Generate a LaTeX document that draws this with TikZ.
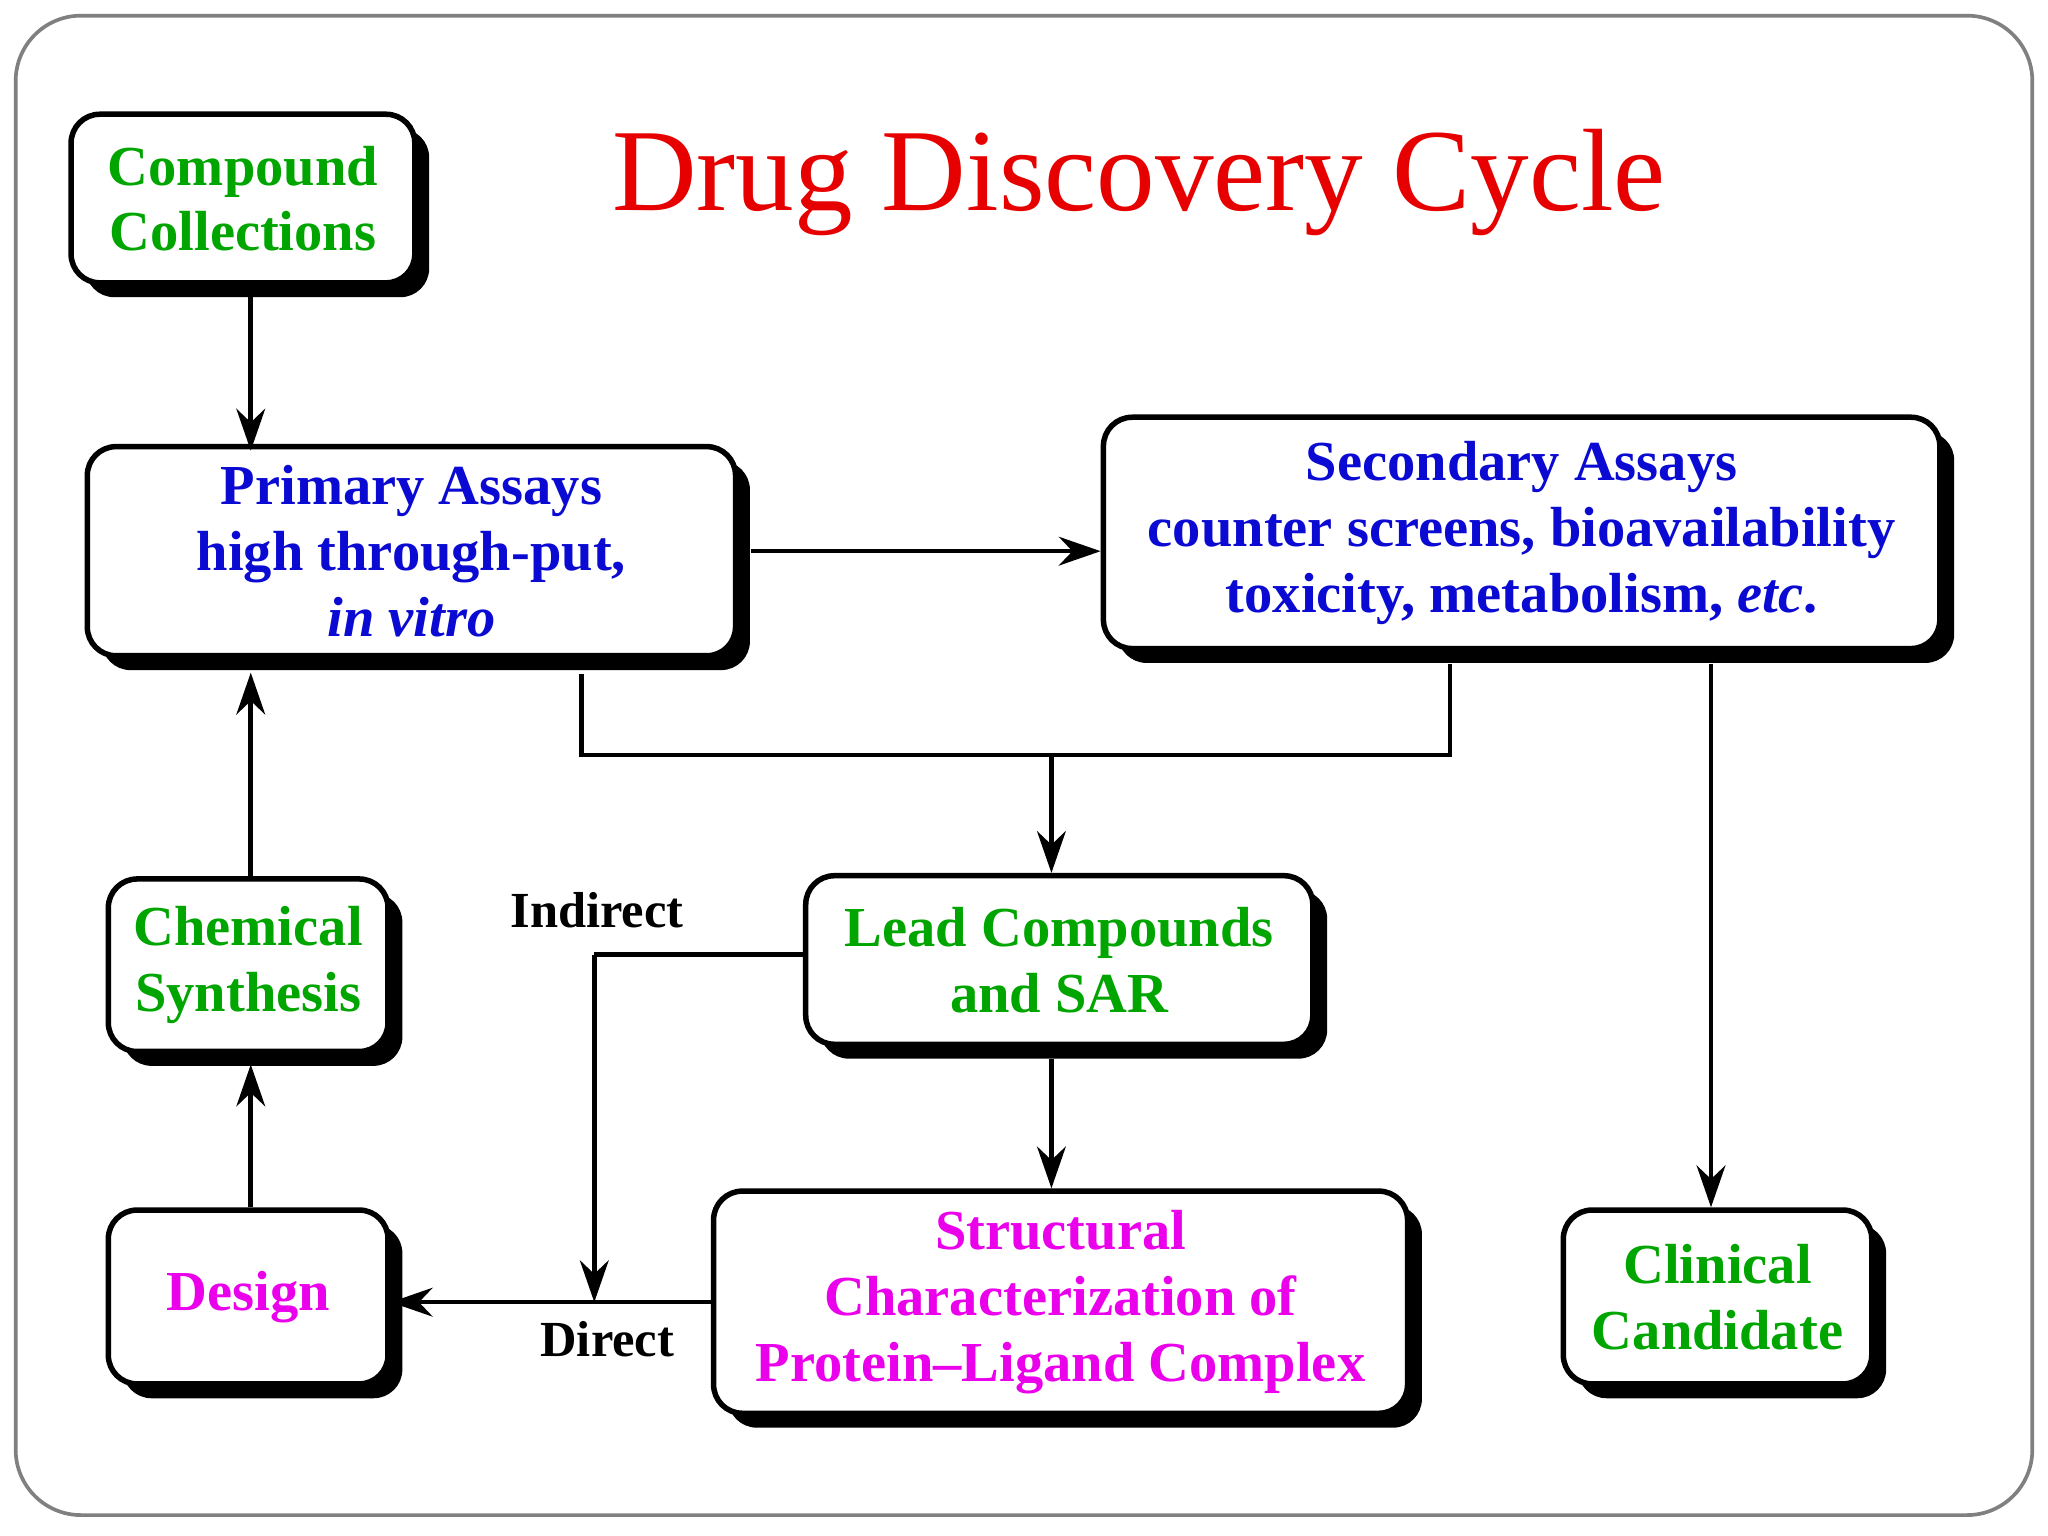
\documentclass[tikz,border=0pt]{standalone}
\usepackage{fontspec}
\setmainfont{Liberation Serif}
\usetikzlibrary{shadows,arrows.meta}
\definecolor{cg}{RGB}{0,165,0}
\definecolor{cb}{RGB}{10,10,210}
\definecolor{cm}{RGB}{235,0,235}
\definecolor{cr}{RGB}{230,0,0}
\begin{document}
\begin{tikzpicture}[x=0.01cm,y=-0.01cm,
 box/.style={draw=black,line width=1.2pt,fill=white,rounded corners=0.22cm,align=center,inner sep=0pt,
   font=\fontsize{12.3}{14.3}\selectfont\bfseries,
   drop shadow={shadow xshift=0.11cm,shadow yshift=-0.11cm,fill=black,opacity=1}},
 con/.style={line width=1pt},
 arr/.style={con,-{Stealth[length=0.32cm,width=0.22cm]}},
 lab/.style={font=\fontsize{11}{13}\selectfont\bfseries}]
\useasboundingbox (0,0) rectangle (1568,1176);
\draw[gray,line width=0.8pt,rounded corners=0.5cm] (12,12) rectangle (1556,1160);
\node[font=\fontsize{25.5}{30}\selectfont,text=cr] (title) at (872,140) {Drug Discovery Cycle};
\node[box,minimum width=2.63cm,minimum height=1.29cm,text=cg] (cc) at (186,152) {Compound\\Collections};
\node[box,minimum width=4.96cm,minimum height=1.60cm,text=cb] (pa) at (315,422) {Primary Assays\\high through-put,\\\textit{in vitro}};
\node[box,minimum width=6.40cm,minimum height=1.77cm,text=cb] (sa) at (1165,408) {Secondary Assays\\counter screens, bioavailability\\toxicity, metabolism, \textit{etc}.};
\node[box,minimum width=2.14cm,minimum height=1.32cm,text=cg] (cs) at (190,739) {Chemical\\Synthesis};
\node[box,minimum width=3.88cm,minimum height=1.29cm,text=cg] (lc) at (811,735) {Lead Compounds\\and SAR};
\node[box,minimum width=2.14cm,minimum height=1.33cm,text=cm] (de) at (190,993) {Design};
\node[box,minimum width=5.31cm,minimum height=1.70cm,text=cm] (st) at (812,997) {Structural\\Characterization of\\Protein--Ligand Complex};
\node[box,minimum width=2.36cm,minimum height=1.33cm,text=cg] (cl) at (1315,993) {Clinical\\Candidate};
\node[lab] (ind) at (457,697) {Indirect};
\node[lab] (dir) at (465,1025) {Direct};
\coordinate (j1) at (445,578);
\coordinate (j2) at (1110,578);
\coordinate (j3) at (805,578);
\coordinate (k1) at (455,731);
\coordinate (k2) at (455,997);
\coordinate (p1) at (575,422);
\draw[arr] (cc.south -| 192,0) -- (192,345);
\draw[arr] (p1) -- (sa.west |- p1);
\draw[con] (445,516) -- (j1) -- (j2) -- (1110,508);
\draw[arr] (j3) -- (lc.north -| j3);
\draw[arr] (1310,508) -- (cl.north -| 1310,0);
\draw[arr] (cs.north -| 192,0) -- (192,515);
\draw[arr] (de.north -| 192,0) -- (192,815);
\draw[arr] (805,811) -- (st.north -| 805,0);
\draw[arr] (st.west) -- (de.east |- st.west);
\draw[con] (lc.west |- k1) -- (k1);
\draw[arr] (k1) -- (k2);
\end{tikzpicture}
\end{document}
